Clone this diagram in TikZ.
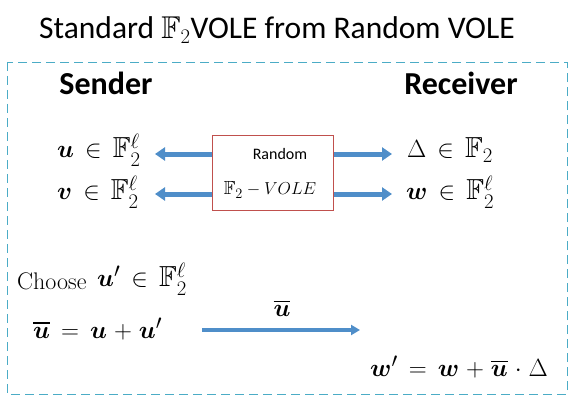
\documentclass[tikz,border=0pt]{standalone}
\usepackage{amsmath,amssymb,bm}
\usepackage{fontspec}
\setmainfont{Carlito}
\usetikzlibrary{arrows.meta}
\definecolor{frameC}{HTML}{4BACC6}
\definecolor{boxC}{HTML}{C0504D}
\definecolor{arrC}{HTML}{4F8EC9}
\newcommand{\widemu}{\thickmuskip=8mu plus 2mu\relax\medmuskip=5mu plus 2mu\relax}
\tikzset{
  px/.style={x=1pt,y=-1pt},
  bigarrow/.style={draw=arrC,line width=5pt,-{Triangle[length=10pt,width=13pt]}},
  mathtxt/.style={inner sep=0pt,font=\fontsize{29}{33}\selectfont\widemu},
  headtxt/.style={inner sep=0pt,font=\fontsize{32}{36}\selectfont\bfseries},
}
\begin{document}
\begin{tikzpicture}[px]
\useasboundingbox (0,0) rectangle (576,404);
\fill[white] (0,0) rectangle (576,404);
\node[inner sep=0pt,font=\fontsize{31.5}{36}\selectfont] (title) at (277,30) {Standard $\mathbb{F}_{2}$VOLE from Random VOLE};
\draw[frameC,line width=0.9pt,dash pattern=on 9pt off 5pt] (7,62) rectangle (567,394);
\node[headtxt] (sender) at (106,83) {Sender};
\node[headtxt] (receiver) at (461,83) {Receiver};
\node[draw=boxC,line width=1pt,minimum width=121pt,minimum height=75pt,inner sep=0pt] (rv) at (272.5,172.5) {};
\node[inner sep=0pt,font=\fontsize{16}{18}\selectfont] (rnd) at (280,154) {Random};
\node[inner sep=0pt,font=\fontsize{19}{22}\selectfont] (fvole) at (270,190) {$\mathbb{F}_2-VOLE$};
\node[mathtxt,anchor=west] (u) at (57,150) {$\bm{u}\in\mathbb{F}_2^{\ell}$};
\node[mathtxt,anchor=west] (v) at (57,192) {$\bm{v}\in\mathbb{F}_2^{\ell}$};
\node[mathtxt,anchor=west] (delta) at (407,150) {$\Delta\in\mathbb{F}_2$};
\node[mathtxt,anchor=west] (w) at (406,192) {$\bm{w}\in\mathbb{F}_2^{\ell}$};
\coordinate (ul) at (155,154);
\coordinate (vl) at (155,194);
\coordinate (dr) at (392,154);
\coordinate (wr) at (392,194);
\draw[bigarrow] (rv.west|-ul) -- (ul);
\draw[bigarrow] (rv.west|-vl) -- (vl);
\draw[bigarrow] (rv.east|-dr) -- (dr);
\draw[bigarrow] (rv.east|-wr) -- (wr);
\node[inner sep=0pt,anchor=west,font=\fontsize{24}{28}\selectfont] (choose) at (17,281) {\fontspec{Latin Modern Roman}Choose};
\node[mathtxt,anchor=west] (uprime) at (97,279) {$\bm{u}'\in\mathbb{F}_2^{\ell}$};
\node[mathtxt,anchor=west,font=\fontsize{31.5}{35}\selectfont\widemu] (ubar) at (33,329) {$\overline{\bm{u}}=\bm{u}+\bm{u}'$};
\coordinate (ubarend) at (360,330);
\draw[bigarrow,line width=3.5pt,-{Triangle[length=9pt,width=10pt]}] (202,330) -- (ubarend);
\node[mathtxt] (ubarlbl) at (282,308) {$\overline{\bm{u}}$};
\node[mathtxt,anchor=west] (wprime) at (370,367) {$\bm{w}'=\bm{w}+\overline{\bm{u}}\cdot\Delta$};
\end{tikzpicture}
\end{document}
